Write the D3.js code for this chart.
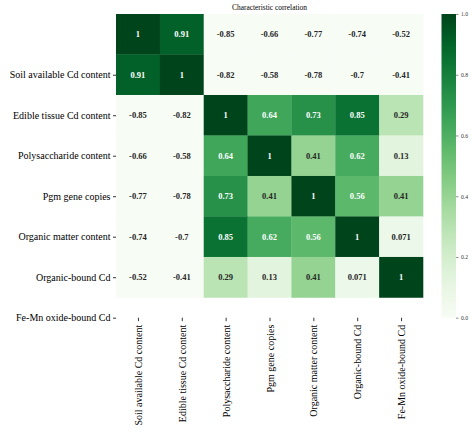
<!DOCTYPE html>
<meta charset="utf-8">
<script src="https://d3js.org/d3.v7.min.js"></script>
<style>
body { margin: 0; background: #fff; }
text { font-family: "Liberation Serif", "Times New Roman", serif; }
.axis path { stroke: none; }
.axis line { stroke: #000; stroke-width: 0.8; }
.cbar line { stroke: #444; stroke-width: 0.6; }
.cbar path { stroke: none; }
</style>
<div id="chart"></div>
<script>
// variables (axis labels)
var variables = ["Soil available Cd content", "Edible tissue Cd content", "Polysaccharide content",
    "Pgm gene copies", "Organic matter content", "Organic-bound Cd", "Fe-Mn oxide-bound Cd"];

// correlation rows
var row1 = [1, 0.91, -0.85, -0.66, -0.77, -0.74, -0.52];
var row2 = [0.91, 1, -0.82, -0.58, -0.78, -0.7, -0.41];
var row3 = [-0.85, -0.82, 1, 0.64, 0.73, 0.85, 0.29];
var row4 = [-0.66, -0.58, 0.64, 1, 0.41, 0.62, 0.13];
var row5 = [-0.77, -0.78, 0.73, 0.41, 1, 0.56, 0.41];
var row6 = [-0.74, -0.7, 0.85, 0.62, 0.56, 1, 0.071];
var row7 = [-0.52, -0.41, 0.29, 0.13, 0.41, 0.071, 1];
var matrix = [row1, row2, row3, row4, row5, row6, row7];

var colorTicks = [0, 0.2, 0.4, 0.6, 0.8, 1.0];

var serif = '"Liberation Serif", "Times New Roman", serif';
var width = 474, height = 434;
var plotLeft = 116, plotRight = 423, plotTop = 14, plotBottom = 317.7;

var svg = d3.select("#chart").append("svg")
    .attr("width", width)
    .attr("height", height);

// data units: x 0..7, y 0..7.5 (axis goes half a row past the cells)
var x = d3.scaleLinear().domain([0, 7]).range([plotLeft, plotRight]);
var y = d3.scaleLinear().domain([0, 7.5]).range([plotTop, plotBottom]);
var color = d3.scaleSequential(d3.interpolateGreens).domain([0, 1]).clamp(true);

function luminance(c) {
    var rgb = d3.rgb(c);
    var lin = [rgb.r, rgb.g, rgb.b].map(function(v) {
        v = v / 255;
        return v <= 0.03928 ? v / 12.92 : Math.pow((v + 0.055) / 1.055, 2.4);
    });
    return 0.2126 * lin[0] + 0.7152 * lin[1] + 0.0722 * lin[2];
}

var cells = [];
matrix.forEach(function(row, i) {
    row.forEach(function(v, j) { cells.push({r: i, c: j, value: v}); });
});

svg.selectAll(".cell")
    .data(cells)
    .enter().append("rect")
    .attr("class", "cell")
    .attr("x", function(d) { return x(d.c); })
    .attr("y", function(d) { return y(d.r); })
    .attr("width", x(1) - x(0) + 0.3)
    .attr("height", y(1) - y(0) + 0.3)
    .attr("fill", function(d) { return color(d.value); });

svg.selectAll(".annot")
    .data(cells)
    .enter().append("text")
    .attr("class", "annot")
    .attr("x", function(d) { return x(d.c + 0.5); })
    .attr("y", function(d) { return y(d.r + 0.5); })
    .attr("dy", "0.35em")
    .attr("text-anchor", "middle")
    .style("font-family", serif)
    .style("font-size", "8.5px")
    .style("font-weight", "bold")
    .attr("fill", function(d) { return luminance(color(d.value)) > 0.45 ? "#262626" : "#fff"; })
    .text(function(d) { return d.value; });

// y axis: labels sit one row down
svg.append("g")
    .attr("class", "axis")
    .attr("transform", "translate(" + plotLeft + ",0)")
    .call(d3.axisLeft(y)
        .tickValues(variables.map(function(d, i) { return i + 1.5; }))
        .tickFormat(function(d, i) { return variables[i]; })
        .tickSize(3)
        .tickPadding(2.5))
    .selectAll("text")
    .style("font-family", serif)
    .style("font-size", "10px")
    .attr("fill", "#000");

// x axis
svg.append("g")
    .attr("class", "axis")
    .attr("transform", "translate(0," + plotBottom + ")")
    .call(d3.axisBottom(x)
        .tickValues(variables.map(function(d, i) { return i + 0.5; }))
        .tickFormat(function(d, i) { return variables[i]; })
        .tickSize(3.5))
    .selectAll("text")
    .style("font-family", serif)
    .style("font-size", "10px")
    .attr("fill", "#000")
    .attr("transform", "rotate(-90)")
    .attr("text-anchor", "end")
    .attr("x", -7)
    .attr("y", 0)
    .attr("dy", "0.35em");

// title
svg.append("text")
    .attr("x", (plotLeft + plotRight) / 2)
    .attr("y", 9.5)
    .attr("text-anchor", "middle")
    .style("font-family", serif)
    .style("font-size", "7.4px")
    .text("Characteristic correlation");

// colorbar
var cbX = 441.5, cbW = 14.5;
var cy = d3.scaleLinear().domain([0, 1]).range([plotBottom, plotTop]);

var grad = svg.append("defs").append("linearGradient")
    .attr("id", "cbgrad")
    .attr("x1", 0).attr("y1", 1).attr("x2", 0).attr("y2", 0);
d3.range(0, 1.0001, 0.05).forEach(function(t) {
    grad.append("stop").attr("offset", t).attr("stop-color", color(t));
});

svg.append("rect")
    .attr("x", cbX)
    .attr("y", cy(1))
    .attr("width", cbW)
    .attr("height", cy(0) - cy(1))
    .attr("fill", "url(#cbgrad)");

svg.append("g")
    .attr("class", "cbar")
    .attr("transform", "translate(" + (cbX + cbW) + ",0)")
    .call(d3.axisRight(cy)
        .tickValues(colorTicks)
        .tickFormat(d3.format(".1f"))
        .tickSize(2.5)
        .tickPadding(2.5))
    .selectAll("text")
    .style("font-family", serif)
    .style("font-size", "5.6px")
    .attr("fill", "#333");
</script>
